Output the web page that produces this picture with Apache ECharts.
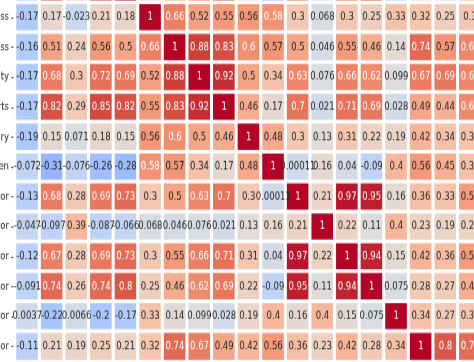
<!DOCTYPE html>
<html>
<head>
<meta charset="UTF-8">
<title>Correlation heatmap</title>
<script type="text/javascript" src="https://cdn.jsdelivr.net/npm/echarts@6/dist/echarts.min.js"></script>
<style>
	html, body { margin:0; padding:0; width:474px; height:362px; overflow:hidden; background:#fff; }
	/* the reference is a crop of a larger, vertically stretched heatmap */
	#box { position:absolute; left:0; top:-160px; width:500px; height:640px; transform-origin:0 0; transform:scale(1,1.2154); }
</style>
</head>
<body>
	<div id="box"></div>
	<script type="text/javascript">
		var labels = ['Year','Price','Volume','Revenue','Profit','Business','Openness','Quality','Exports','Salary',
			'Children','Factor','Indicator','Monitor','Detector','Predictor','Vendor','Margin','Score'];

		// rows of the correlation matrix that fall inside the picture (row 4 is only a sliver at the top)
		var row04 = [-0.17, 0.8, 0.29, 0.9, 1, 0.18, 0.5, 0.69, 0.82, 0.15, -0.28, 0.73, -0.066, 0.73, 0.8, -0.17, 0.21, 0.21, 0.35];
		var row05 = [-0.17, 0.17, -0.023, 0.21, 0.18, 1, 0.66, 0.52, 0.55, 0.56, 0.58, 0.3, 0.068, 0.3, 0.25, 0.33, 0.32, 0.25, 0.3];
		var row06 = [-0.16, 0.51, 0.24, 0.56, 0.5, 0.66, 1, 0.88, 0.83, 0.6, 0.57, 0.5, 0.046, 0.55, 0.46, 0.14, 0.74, 0.57, 0.63];
		var row07 = [-0.17, 0.68, 0.3, 0.72, 0.69, 0.52, 0.88, 1, 0.92, 0.5, 0.34, 0.63, 0.076, 0.66, 0.62, 0.099, 0.67, 0.69, 0.64];
		var row08 = [-0.17, 0.82, 0.29, 0.85, 0.82, 0.55, 0.83, 0.92, 1, 0.46, 0.17, 0.7, 0.021, 0.71, 0.69, 0.028, 0.49, 0.44, 0.62];
		var row09 = [-0.19, 0.15, 0.071, 0.18, 0.15, 0.56, 0.6, 0.5, 0.46, 1, 0.48, 0.3, 0.13, 0.31, 0.22, 0.19, 0.42, 0.34, 0.33];
		var row10 = [-0.072, -0.31, -0.076, -0.26, -0.28, 0.58, 0.57, 0.34, 0.17, 0.48, 1, 0.00011, 0.16, 0.04, -0.09, 0.4, 0.56, 0.45, 0.35];
		var row11 = [-0.13, 0.68, 0.28, 0.69, 0.73, 0.3, 0.5, 0.63, 0.7, 0.3, 0.00011, 1, 0.21, 0.97, 0.95, 0.16, 0.36, 0.33, 0.54];
		var row12 = [-0.047, -0.097, 0.39, -0.087, -0.066, 0.068, 0.046, 0.076, 0.021, 0.13, 0.16, 0.21, 1, 0.22, 0.11, 0.4, 0.23, 0.19, 0.23];
		var row13 = [-0.12, 0.67, 0.28, 0.69, 0.73, 0.3, 0.55, 0.66, 0.71, 0.31, 0.04, 0.97, 0.22, 1, 0.94, 0.15, 0.42, 0.36, 0.54];
		var row14 = [-0.091, 0.74, 0.26, 0.74, 0.8, 0.25, 0.46, 0.62, 0.69, 0.22, -0.09, 0.95, 0.11, 0.94, 1, 0.075, 0.28, 0.27, 0.45];
		var row15 = [0.0037, -0.22, 0.0066, -0.2, -0.17, 0.33, 0.14, 0.099, 0.028, 0.19, 0.4, 0.16, 0.4, 0.15, 0.075, 1, 0.34, 0.27, 0.31];
		var row16 = [-0.11, 0.21, 0.19, 0.25, 0.21, 0.32, 0.74, 0.67, 0.49, 0.42, 0.56, 0.36, 0.23, 0.42, 0.28, 0.34, 1, 0.8, 0.73];
		var rows = [row04, row05, row06, row07, row08, row09, row10, row11, row12, row13, row14, row15, row16];
		var firstRow = 4;

		// matplotlib coolwarm
		var coolwarm = ['#3b4cc0','#4d68d7','#6282ea','#779af7','#8db0fe','#a3c2ff','#b8d0f9','#ccd9ee','#dddddd',
			'#ecd3c5','#f5c4ac','#f7b194','#f49a7b','#ec7f63','#de604d','#cb3e38','#b40426'];

		var data = [];
		rows.forEach(function(vals, i) {
			vals.forEach(function(v, j) {
				data.push({
					value: [j, i + firstRow, v],
					label: { color: v >= 0.575 ? '#ffffff' : '#262626' }
				});
			});
		});

		var mychart = echarts.init(document.getElementById('box'));
		var option = {
			animation: false,
			grid: { left: 15, top: 10.7, width: 467.4, height: 467.4, containLabel: false, outerBoundsMode: 'none' },
			xAxis: {
				type: 'category',
				data: labels,
				axisLine: { show: false },
				axisTick: { show: true, alignWithLabel: true, length: 3.5, lineStyle: { color: '#262626' } },
				axisLabel: { interval: 0, rotate: 90, fontSize: 8.5, fontFamily: 'DejaVu Sans', color: '#262626' },
				splitLine: { show: false }
			},
			yAxis: {
				type: 'category',
				data: labels,
				inverse: true,
				axisLine: { show: false },
				axisTick: { show: true, alignWithLabel: true, length: 3.5, lineStyle: { color: '#262626' } },
				axisLabel: { interval: 0, margin: 6, fontSize: 8.5, fontFamily: 'DejaVu Sans', color: '#262626' },
				splitLine: { show: false }
			},
			visualMap: {
				show: false,
				type: 'continuous',
				dimension: 2,
				min: -0.8,
				max: 1,
				inRange: { color: coolwarm }
			},
			series: [{
				type: 'heatmap',
				data: data,
				itemStyle: { borderColor: '#ffffff', borderWidth: 3 },
				label: {
					show: true,
					fontSize: 8.5,
					fontFamily: 'DejaVu Sans',
					formatter: function(p) { return String(p.value[2]); }
				},
				emphasis: { disabled: true }
			}]
		};
		mychart.setOption(option);
	</script>
</body>
</html>
